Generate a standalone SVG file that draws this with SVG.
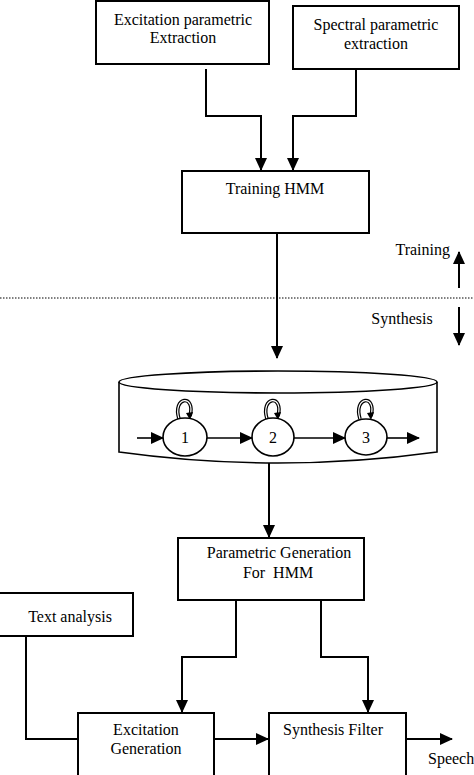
<svg xmlns="http://www.w3.org/2000/svg" width="474" height="775" viewBox="0 0 474 775">
<style>
.box{fill:#fff;stroke:#000;stroke-width:2}
.t{font-family:"Liberation Serif","Times New Roman",serif;font-size:16px;fill:#000;text-anchor:middle}
.c{fill:none;stroke:#000;stroke-width:2}
.thin{fill:none;stroke:#000;stroke-width:1.6}
.st{fill:#fff;stroke:#000;stroke-width:1.6}
</style>
<defs>
<marker id="ah" markerUnits="userSpaceOnUse" markerWidth="14" markerHeight="14" refX="12" refY="6" orient="auto" viewBox="0 0 14 12">
<path d="M0,0 L13,6 L0,12 Z" fill="#000"/>
</marker>
</defs>
<rect width="474" height="775" fill="#fff"/>

<g id="excitation-extraction">
<rect class="box" x="96" y="1" width="173" height="63"/>
<text class="t" x="183" y="25">Excitation parametric</text>
<text class="t" x="183" y="43">Extraction</text>
</g>
<g id="spectral-extraction">
<rect class="box" x="293" y="6" width="166" height="63"/>
<text class="t" x="376" y="30">Spectral parametric</text>
<text class="t" x="376" y="49">extraction</text>
</g>
<g id="training-hmm">
<rect class="box" x="182" y="171" width="187" height="62"/>
<text class="t" x="275" y="194">Training HMM</text>
</g>
<g id="hmm-model">
<path class="thin" d="M119,382 L119,452 Q278,474 437,452 L437,382"/>
<ellipse class="thin" cx="278" cy="382" rx="159" ry="11" fill="#fff"/>
<g id="state1">
<path d="M179,419 C172,396 196,394 190,416" fill="none" stroke="#000" stroke-width="3.6"/>
<path d="M179,419 C172,396 196,394 190,416" fill="none" stroke="#fff" stroke-width="1.2"/>
<path d="M186,413 L190,420 L193,412 Z" fill="#000"/>
<ellipse class="st" cx="185" cy="437" rx="22" ry="19"/>
<text class="t" x="185" y="443">1</text>
</g>
<g id="state2">
<path d="M267,419 C260,396 284,394 278,416" fill="none" stroke="#000" stroke-width="3.6"/>
<path d="M267,419 C260,396 284,394 278,416" fill="none" stroke="#fff" stroke-width="1.2"/>
<path d="M274,413 L278,420 L281,412 Z" fill="#000"/>
<ellipse class="st" cx="273" cy="437" rx="21" ry="19"/>
<text class="t" x="273" y="443">2</text>
</g>
<g id="state3">
<path d="M360,419 C353,396 377,394 371,416" fill="none" stroke="#000" stroke-width="3.6"/>
<path d="M360,419 C353,396 377,394 371,416" fill="none" stroke="#fff" stroke-width="1.2"/>
<path d="M367,413 L371,420 L374,412 Z" fill="#000"/>
<ellipse class="st" cx="366" cy="437" rx="21" ry="18"/>
<text class="t" x="366" y="443">3</text>
</g>
</g>
<g id="parametric-generation">
<rect class="box" x="178" y="538" width="186" height="62"/>
<text class="t" x="279" y="558">Parametric Generation</text>
<text class="t" x="278" y="578" xml:space="preserve">For  HMM</text>
</g>
<g id="text-analysis">
<rect class="box" x="-2" y="593" width="135" height="43"/>
<text class="t" x="70" y="622">Text analysis</text>
</g>
<g id="excitation-generation">
<rect class="box" x="78" y="713" width="136" height="70"/>
<text class="t" x="146" y="735">Excitation</text>
<text class="t" x="146" y="754">Generation</text>
</g>
<g id="synthesis-filter">
<rect class="box" x="269" y="713" width="137" height="70"/>
<text class="t" x="333" y="735">Synthesis Filter</text>
</g>

<g id="labels">
<text class="t" x="450" y="255" style="text-anchor:end">Training</text>
<text class="t" x="402" y="324">Synthesis</text>
<text class="t" x="428" y="764" style="text-anchor:start">Speech</text>
</g>

<g id="connectors">
<path class="c" d="M206,69 L206,116 L261,116 L261,170" marker-end="url(#ah)"/>
<path class="c" d="M356,69 L356,116 L293,116 L293,170" marker-end="url(#ah)"/>
<path class="c" d="M277,233 L277,358" marker-end="url(#ah)"/>
<line x1="0" y1="298" x2="474" y2="298" stroke="#000" stroke-width="1" stroke-dasharray="1.5,1.5"/>
<path class="c" d="M459,288 L459,252" marker-end="url(#ah)"/>
<path class="c" d="M459,307 L459,345" marker-end="url(#ah)"/>
<path class="thin" d="M137,438 L163,438" marker-end="url(#ah)"/>
<path class="thin" d="M207,438 L252,438" marker-end="url(#ah)"/>
<path class="thin" d="M294,438 L345,438" marker-end="url(#ah)"/>
<path class="thin" d="M387,438 L419,438" marker-end="url(#ah)"/>
<path class="c" d="M269,463 L269,537" marker-end="url(#ah)"/>
<path class="c" d="M236,600 L236,657 L182,657 L182,712" marker-end="url(#ah)"/>
<path class="c" d="M321,600 L321,657 L368,657 L368,712" marker-end="url(#ah)"/>
<path class="c" d="M26,636 L26,739 L78,739"/>
<path class="c" d="M214,739 L268,739" marker-end="url(#ah)"/>
<path class="c" d="M406,739 L452,739" marker-end="url(#ah)"/>
</g>
</svg>
